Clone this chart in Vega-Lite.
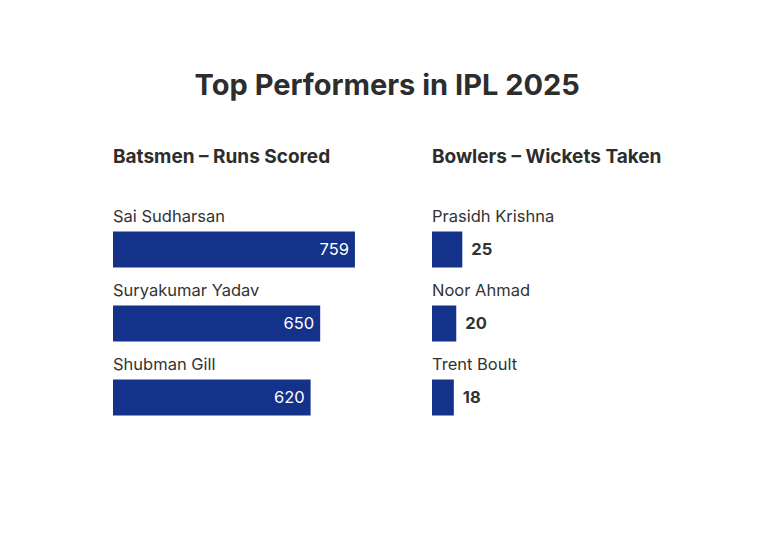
{
  "$schema": "https://vega.github.io/schema/vega-lite/v6.json",
  "padding": {"left": 113, "top": 72, "right": 5, "bottom": 5},
  "background": "white",
  "title": {"text": "Top Performers in IPL 2025", "fontSize": 29, "font": "Inter", "fontWeight": "bold", "color": "#2d2d2d", "anchor": "middle", "offset": 47},
  "datasets": {
    "batsmen": [
      {"player": "Sai Sudharsan", "runs": 759},
      {"player": "Suryakumar Yadav", "runs": 650},
      {"player": "Shubman Gill", "runs": 620}
    ],
    "bowlers": [
      {"player": "Prasidh Krishna", "wickets": 25},
      {"player": "Noor Ahmad", "wickets": 20},
      {"player": "Trent Boult", "wickets": 18}
    ]
  },
  "spacing": 64,
  "hconcat": [
    {
      "width": 255,
      "height": 222,
      "title": {"text": "Batsmen – Runs Scored", "anchor": "start", "fontSize": 19, "fontWeight": "bold", "font": "Inter", "color": "#2d2d2d", "offset": 33},
      "data": {"name": "batsmen"},
      "encoding": {
        "y": {"field": "player", "type": "nominal", "sort": null, "axis": null, "scale": {"paddingInner": 0, "paddingOuter": 0}}
      },
      "layer": [
        {
          "mark": {"type": "bar", "height": 36, "yOffset": 12.5, "color": "#14328a"},
          "encoding": {"x": {"field": "runs", "type": "quantitative", "scale": {"domain": [0, 800], "nice": false}, "axis": null}}
        },
        {
          "mark": {"type": "text", "align": "right", "baseline": "middle", "dx": -6, "dy": 12.5, "fontSize": 16.5, "font": "Inter", "color": "white"},
          "encoding": {"x": {"field": "runs", "type": "quantitative"}, "text": {"field": "runs"}}
        },
        {
          "mark": {"type": "text", "align": "left", "baseline": "alphabetic", "dy": -15, "fontSize": 16.5, "font": "Inter", "color": "#333333"},
          "encoding": {"x": {"datum": 0}, "text": {"field": "player"}}
        }
      ]
    },
    {
      "width": 228,
      "height": 222,
      "title": {"text": "Bowlers – Wickets Taken", "anchor": "start", "fontSize": 19, "fontWeight": "bold", "font": "Inter", "color": "#2d2d2d", "offset": 33},
      "data": {"name": "bowlers"},
      "encoding": {
        "y": {"field": "player", "type": "nominal", "sort": null, "axis": null, "scale": {"paddingInner": 0, "paddingOuter": 0}}
      },
      "layer": [
        {
          "mark": {"type": "bar", "height": 36, "yOffset": 12.5, "color": "#14328a"},
          "encoding": {"x": {"field": "wickets", "type": "quantitative", "scale": {"domain": [0, 188], "nice": false}, "axis": null}}
        },
        {
          "mark": {"type": "text", "align": "left", "baseline": "middle", "dx": 9, "dy": 12.5, "fontSize": 16.5, "font": "Inter", "fontWeight": "bold", "color": "#333333"},
          "encoding": {"x": {"field": "wickets", "type": "quantitative"}, "text": {"field": "wickets"}}
        },
        {
          "mark": {"type": "text", "align": "left", "baseline": "alphabetic", "dy": -15, "fontSize": 16.5, "font": "Inter", "color": "#333333"},
          "encoding": {"x": {"datum": 0}, "text": {"field": "player"}}
        }
      ]
    }
  ],
  "config": {"view": {"stroke": null}, "font": "Inter"}
}
